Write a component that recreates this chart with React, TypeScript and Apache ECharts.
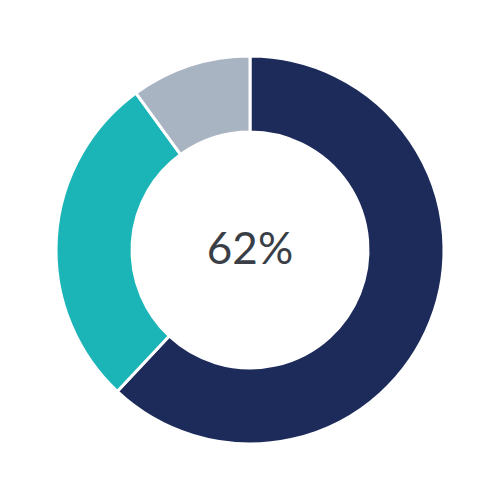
import React, { useEffect, useRef } from "react";
import * as echarts from "echarts";

const categories = ["Navy", "Teal", "Gray"];
const values = [62, 28, 10];
const colors = ["#1c2b5a", "#1bb5b8", "#a9b4c3"];
const centerLabel = "62%";

export default function App() {
  const ref = useRef<HTMLDivElement>(null);
  useEffect(() => {
    if (!ref.current) return;
    const chart = echarts.init(ref.current, null, { renderer: "svg" });
    chart.setOption({
      animation: false,
      backgroundColor: "#ffffff",
      graphic: [
        {
          type: "text",
          x: 250,
          y: 247,
          style: {
            text: centerLabel,
            fontFamily: "Lato",
            fontWeight: 400,
            fontSize: 44,
            fill: "#3a3f47",
            align: "center",
            verticalAlign: "middle",
          },
        },
      ],
      series: [
        {
          type: "pie",
          center: [250, 250],
          radius: [118, 194],
          startAngle: 90,
          clockwise: true,
          label: { show: false },
          labelLine: { show: false },
          emphasis: { disabled: true },
          itemStyle: { borderColor: "#ffffff", borderWidth: 3 },
          data: categories.map((c, i) => ({
            name: c,
            value: values[i],
            itemStyle: { color: colors[i] },
          })),
        },
      ],
    });
    return () => chart.dispose();
  }, []);
  return (
    <div
      ref={ref}
      style={{ position: "fixed", left: 0, top: 0, width: 500, height: 500 }}
    />
  );
}
